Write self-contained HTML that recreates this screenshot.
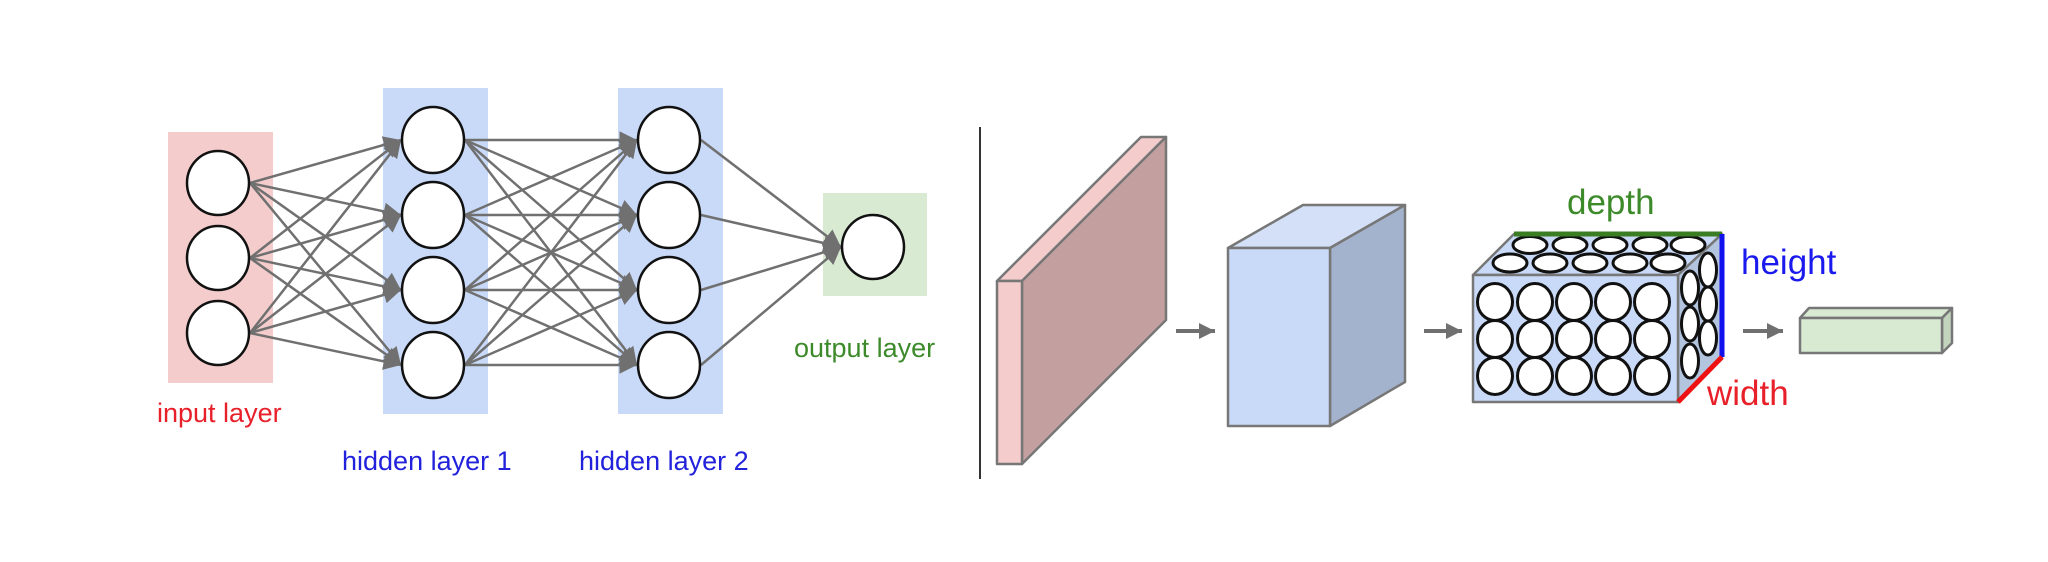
<!DOCTYPE html>
<html><head><meta charset="utf-8"><style>
html,body{margin:0;padding:0;background:#fff;}
svg{display:block;}
text{font-family:"Liberation Sans",Arial,sans-serif;}
</style></head><body>
<svg width="2048" height="562" viewBox="0 0 2048 562" xmlns="http://www.w3.org/2000/svg">
<defs>
<marker id="ah" viewBox="0 0 10 10" refX="10" refY="5" markerWidth="7" markerHeight="7" orient="auto" markerUnits="strokeWidth">
<path d="M0,0 L10,5 L0,10 z" fill="#707070"/></marker>
<marker id="ah2" viewBox="0 0 10 10" refX="10" refY="5" markerWidth="4" markerHeight="4" orient="auto" markerUnits="strokeWidth">
<path d="M0,0 L10,5 L0,10 z" fill="#707070"/></marker>
</defs>
<rect x="168" y="132" width="105" height="251" fill="#f4cccc"/>
<rect x="383" y="88" width="105" height="326" fill="#c9daf8"/>
<rect x="618" y="88" width="105" height="326" fill="#c9daf8"/>
<rect x="823" y="193" width="104" height="103" fill="#d9ead3"/>
<g stroke="#707070" stroke-width="2.5" fill="none" marker-end="url(#ah)">
<line x1="250" y1="183" x2="401" y2="140"/><line x1="250" y1="183" x2="401" y2="215"/><line x1="250" y1="183" x2="401" y2="290"/><line x1="250" y1="183" x2="401" y2="365"/>
<line x1="250" y1="258" x2="401" y2="140"/><line x1="250" y1="258" x2="401" y2="215"/><line x1="250" y1="258" x2="401" y2="290"/><line x1="250" y1="258" x2="401" y2="365"/>
<line x1="250" y1="333" x2="401" y2="140"/><line x1="250" y1="333" x2="401" y2="215"/><line x1="250" y1="333" x2="401" y2="290"/><line x1="250" y1="333" x2="401" y2="365"/>
<line x1="465" y1="140" x2="637" y2="140"/><line x1="465" y1="140" x2="637" y2="215"/><line x1="465" y1="140" x2="637" y2="290"/><line x1="465" y1="140" x2="637" y2="365"/>
<line x1="465" y1="215" x2="637" y2="140"/><line x1="465" y1="215" x2="637" y2="215"/><line x1="465" y1="215" x2="637" y2="290"/><line x1="465" y1="215" x2="637" y2="365"/>
<line x1="465" y1="290" x2="637" y2="140"/><line x1="465" y1="290" x2="637" y2="215"/><line x1="465" y1="290" x2="637" y2="290"/><line x1="465" y1="290" x2="637" y2="365"/>
<line x1="465" y1="365" x2="637" y2="140"/><line x1="465" y1="365" x2="637" y2="215"/><line x1="465" y1="365" x2="637" y2="290"/><line x1="465" y1="365" x2="637" y2="365"/>
<line x1="701" y1="140" x2="841" y2="247"/><line x1="701" y1="215" x2="841" y2="247"/><line x1="701" y1="290" x2="841" y2="247"/><line x1="701" y1="365" x2="841" y2="247"/>
</g>
<g fill="#fff" stroke="#111" stroke-width="2.5">
<ellipse cx="218" cy="183" rx="31" ry="32"/><ellipse cx="218" cy="258" rx="31" ry="32"/><ellipse cx="218" cy="333" rx="31" ry="32"/>
<ellipse cx="433" cy="140" rx="31" ry="33"/><ellipse cx="433" cy="215" rx="31" ry="33"/><ellipse cx="433" cy="290" rx="31" ry="33"/><ellipse cx="433" cy="365" rx="31" ry="33"/>
<ellipse cx="669" cy="140" rx="31" ry="33"/><ellipse cx="669" cy="215" rx="31" ry="33"/><ellipse cx="669" cy="290" rx="31" ry="33"/><ellipse cx="669" cy="365" rx="31" ry="33"/>
<ellipse cx="873" cy="247" rx="31" ry="32"/>
</g>
<g font-size="27">
<text x="157" y="422" fill="#e8202a">input layer</text>
<text x="342" y="470" fill="#2222dd">hidden layer 1</text>
<text x="579" y="470" fill="#2222dd">hidden layer 2</text>
<text x="794" y="357" fill="#3d8a2a">output layer</text>
</g>
<line x1="980" y1="127" x2="980" y2="479" stroke="#333" stroke-width="2"/>
<g stroke="#777" stroke-width="2.5" stroke-linejoin="round">
<polygon points="997,281 1141,137 1166,137 1022,281" fill="#f4cccc"/>
<polygon points="1022,281 1166,137 1166,320 1022,464" fill="#c49f9f"/>
<rect x="997" y="281" width="25" height="183" fill="#f4cccc"/>
</g>
<g stroke="#777" stroke-width="2.5" stroke-linejoin="round">
<polygon points="1228,248 1303,205 1405,205 1330,248" fill="#d3e0f7"/>
<polygon points="1330,248 1405,205 1405,382 1330,426" fill="#a4b3cd"/>
<rect x="1228" y="248" width="102" height="178" fill="#c9daf8"/>
</g>
<g stroke="#707070" stroke-width="4" marker-end="url(#ah2)">
<line x1="1176" y1="331" x2="1215" y2="331"/>
<line x1="1424" y1="331" x2="1462" y2="331"/>
<line x1="1743" y1="331" x2="1783" y2="331"/>
</g>
<g stroke="#777" stroke-width="2.5" stroke-linejoin="round">
<polygon points="1473,275 1514,234 1722,234 1678,275" fill="#c9daf8"/>
<polygon points="1678,275 1722,234 1722,357 1678,402" fill="#b3c4df"/>
<rect x="1473" y="275" width="205" height="127" fill="#c9daf8"/>
</g>
<g fill="#fff" stroke="#111" stroke-width="3">
<ellipse cx="1530" cy="245" rx="17" ry="8.5"/><ellipse cx="1570" cy="245" rx="17" ry="8.5"/><ellipse cx="1610" cy="245" rx="17" ry="8.5"/><ellipse cx="1650" cy="245" rx="17" ry="8.5"/><ellipse cx="1688" cy="245" rx="17" ry="8.5"/>
<ellipse cx="1510" cy="263" rx="17" ry="9"/><ellipse cx="1550" cy="263" rx="17" ry="9"/><ellipse cx="1590" cy="263" rx="17" ry="9"/><ellipse cx="1630" cy="263" rx="17" ry="9"/><ellipse cx="1668" cy="263" rx="17" ry="9"/>
<ellipse cx="1708" cy="270" rx="8.5" ry="17"/><ellipse cx="1708" cy="304" rx="8.5" ry="17"/><ellipse cx="1708" cy="338" rx="8.5" ry="17"/>
<ellipse cx="1690" cy="288" rx="8.5" ry="17"/><ellipse cx="1690" cy="324" rx="8.5" ry="17"/><ellipse cx="1690" cy="361" rx="8.5" ry="17"/>
<ellipse cx="1495" cy="302" rx="17.5" ry="18.5"/><ellipse cx="1535" cy="302" rx="17.5" ry="18.5"/><ellipse cx="1574" cy="302" rx="17.5" ry="18.5"/><ellipse cx="1613" cy="302" rx="17.5" ry="18.5"/><ellipse cx="1652" cy="302" rx="17.5" ry="18.5"/>
<ellipse cx="1495" cy="339" rx="17.5" ry="18.5"/><ellipse cx="1535" cy="339" rx="17.5" ry="18.5"/><ellipse cx="1574" cy="339" rx="17.5" ry="18.5"/><ellipse cx="1613" cy="339" rx="17.5" ry="18.5"/><ellipse cx="1652" cy="339" rx="17.5" ry="18.5"/>
<ellipse cx="1495" cy="376" rx="17.5" ry="18.5"/><ellipse cx="1535" cy="376" rx="17.5" ry="18.5"/><ellipse cx="1574" cy="376" rx="17.5" ry="18.5"/><ellipse cx="1613" cy="376" rx="17.5" ry="18.5"/><ellipse cx="1652" cy="376" rx="17.5" ry="18.5"/>
</g>
<line x1="1514" y1="234" x2="1722" y2="234" stroke="#3a7d22" stroke-width="5"/>
<line x1="1722" y1="234" x2="1722" y2="357" stroke="#1111ee" stroke-width="5"/>
<line x1="1678" y1="402" x2="1722" y2="357" stroke="#ee1111" stroke-width="5"/>
<g font-size="35">
<text x="1567" y="214" fill="#3d8a2a">depth</text>
<text x="1741" y="274" fill="#1a1aee">height</text>
<text x="1707" y="405" fill="#e8202a">width</text>
</g>
<g stroke="#777" stroke-width="2.5" stroke-linejoin="round">
<polygon points="1800,318 1809,308 1952,308 1942,318" fill="#d9ead3"/>
<polygon points="1942,318 1952,308 1952,343 1942,353" fill="#c3d4bd"/>
<rect x="1800" y="318" width="142" height="35" fill="#d9ead3"/>
</g>
</svg>
</body></html>
